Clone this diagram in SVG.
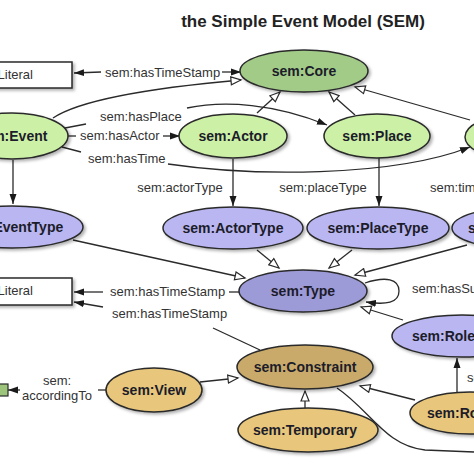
<svg xmlns="http://www.w3.org/2000/svg" width="474" height="474" viewBox="0 0 474 474">
<style>
.n{stroke:#2a2a2a;stroke-width:1.5}
.g{fill:#ccf1a6}.gd{fill:#a2cb88}
.p{fill:#b9b6f1}.pd{fill:#9d9ad8}
.t{fill:#e8c77c}.td{fill:#c9aa6a}
.box{fill:#fff;stroke:#2a2a2a;stroke-width:1.5}
.nl{font-family:"Liberation Sans",Arial,sans-serif;font-size:14px;font-weight:bold;fill:#1c1c2a;text-anchor:middle}
.el{font-family:"Liberation Sans",Arial,sans-serif;font-size:13px;fill:#333}
.c{fill:none;stroke:#2a2a2a;stroke-width:1.3}
.s{marker-end:url(#solid)}
.h{marker-end:url(#hollow)}
</style>
<defs>
<filter id="sh" x="-20%" y="-20%" width="140%" height="150%">
<feDropShadow dx="2" dy="2" stdDeviation="1.5" flood-color="#000" flood-opacity="0.3"/>
</filter>
<marker id="solid" markerWidth="11" markerHeight="8" refX="10" refY="4" orient="auto" markerUnits="userSpaceOnUse">
<path d="M0,0.5 L10,4 L0,7.5 z" fill="#1a1a1a"/>
</marker>
<marker id="hollow" markerWidth="13" markerHeight="10" refX="11" refY="5" orient="auto" markerUnits="userSpaceOnUse">
<path d="M1,1 L11,5 L1,9 z" fill="#fff" stroke="#2a2a2a" stroke-width="1.2"/>
</marker>
</defs>
<rect width="474" height="474" fill="#fff"/>
<text x="303" y="27" font-family="Liberation Sans,Arial,sans-serif" font-size="17" font-weight="bold" fill="#222" text-anchor="middle">the Simple Event Model (SEM)</text>

<g id="connectors">
<path class="c s" d="M222,72 L241,72"/>
<path class="c s" d="M101,72 L74,73"/>
<text class="el" x="105" y="77">sem:hasTimeStamp</text>
<path class="c h" d="M53,118 C80,100 150,88 241,80"/>
<path class="c h" d="M257,113 L280,92"/>
<path class="c h" d="M355,115 L329,92"/>
<path class="c h" d="M470,120 L355,87"/>
<path class="c" d="M66,136 L76,136"/>
<text class="el" x="80" y="140">sem:hasActor</text>
<path class="c s" d="M163,136 L180,136"/>
<path class="c" d="M65,128 L86,124"/>
<text class="el" x="100" y="121">sem:hasPlace</text>
<path class="c s" d="M187,108 C225,100 275,104 327,125"/>
<path class="c" d="M62,147 L81,152"/>
<text class="el" x="88" y="163">sem:hasTime</text>
<path class="c s" d="M168,164 C250,176 390,178 470,147"/>
<path class="c s" d="M13,160 L13,204"/>
<path class="c s" d="M233,159 L233,206"/>
<text class="el" x="180" y="192" text-anchor="middle">sem:actorType</text>
<path class="c s" d="M379,158 L379,206"/>
<text class="el" x="323" y="192" text-anchor="middle">sem:placeType</text>
<text class="el" x="430" y="192">sem:timeType</text>
<path class="c h" d="M73,240 L245,278"/>
<path class="c h" d="M257,250 L279,268"/>
<path class="c h" d="M352,250 L329,268"/>
<path class="c h" d="M467,245 L355,275"/>
<path class="c s" d="M365,283 C386,276 399,279 399,291 C399,303 386,305 366,302"/>
<text class="el" x="412" y="293">sem:hasSubType</text>
<path class="c h" d="M403,320 L361,307"/>
<path class="c" d="M240,292 L229,292"/>
<text class="el" x="110" y="296">sem:hasTimeStamp</text>
<path class="c s" d="M103,292 L74,292"/>
<path class="c" d="M260,350 L213,328"/>
<text class="el" x="112" y="318">sem:hasTimeStamp</text>
<path class="c s" d="M103,307 L74,302"/>
<path class="c h" d="M200,382 L238,378"/>
<path class="c h" d="M305,408 L305,391"/>
<path class="c h" d="M415,400 L360,386"/>
<path class="c s" d="M457,392 L457,358"/>
<text class="el" x="467" y="382">sem:roleType</text>
<path class="c" d="M337,388 C370,410 385,446 425,450 L474,452"/>
<path class="c" d="M107,390 L98,390"/>
<text class="el" x="57" y="385" text-anchor="middle">sem:</text>
<text class="el" x="57" y="400" text-anchor="middle">accordingTo</text>
<path class="c s" d="M20,390 L8,390"/>
</g>

<g id="literal1"><rect class="box" x="-10" y="62" width="82" height="26" filter="url(#sh)"/><text class="el" x="33" y="79" text-anchor="end">Literal</text></g>
<g id="literal2"><rect class="box" x="-10" y="278" width="82" height="27" filter="url(#sh)"/><text class="el" x="33" y="295" text-anchor="end">Literal</text></g>
<g id="place-left"><rect x="-20" y="384" width="28" height="12" fill="#9cc47a" stroke="#2a2a2a" stroke-width="1.2"/></g>

<g id="core"><ellipse class="n gd" cx="304" cy="71" rx="64" ry="21" filter="url(#sh)"/><text class="nl" x="304" y="76">sem:Core</text></g>
<g id="event"><ellipse class="n g" cx="12" cy="136" rx="56" ry="23" filter="url(#sh)"/><text class="nl" x="12" y="141">sem:Event</text></g>
<g id="actor"><ellipse class="n g" cx="233" cy="136" rx="54" ry="22" filter="url(#sh)"/><text class="nl" x="233" y="141">sem:Actor</text></g>
<g id="place"><ellipse class="n g" cx="377" cy="136" rx="53" ry="22" filter="url(#sh)"/><text class="nl" x="377" y="141">sem:Place</text></g>
<g id="time"><ellipse class="n g" cx="515" cy="137" rx="50" ry="22" filter="url(#sh)"/></g>

<g id="eventtype"><ellipse class="n p" cx="12" cy="227" rx="71" ry="21" filter="url(#sh)"/><text class="nl" x="12" y="232">sem:EventType</text></g>
<g id="actortype"><ellipse class="n p" cx="233" cy="228" rx="70" ry="21" filter="url(#sh)"/><text class="nl" x="233" y="233">sem:ActorType</text></g>
<g id="placetype"><ellipse class="n p" cx="378" cy="228" rx="71" ry="21" filter="url(#sh)"/><text class="nl" x="378" y="233">sem:PlaceType</text></g>
<g id="timetype"><ellipse class="n p" cx="522" cy="228" rx="70" ry="21" filter="url(#sh)"/><text class="nl" x="468" y="233" style="text-anchor:start">sem:TimeType</text></g>

<g id="type"><ellipse class="n pd" cx="303" cy="291" rx="64" ry="21" filter="url(#sh)"/><text class="nl" x="303" y="296">sem:Type</text></g>
<g id="roletype"><ellipse class="n p" cx="462" cy="336" rx="70" ry="21" filter="url(#sh)"/><text class="nl" x="412" y="341" style="text-anchor:start">sem:RoleType</text></g>

<g id="constraint"><ellipse class="n td" cx="305" cy="367" rx="68" ry="22" filter="url(#sh)"/><text class="nl" x="305" y="372">sem:Constraint</text></g>
<g id="view"><ellipse class="n t" cx="154" cy="390" rx="48" ry="22" filter="url(#sh)"/><text class="nl" x="154" y="395">sem:View</text></g>
<g id="temporary"><ellipse class="n t" cx="308" cy="430" rx="70" ry="22" filter="url(#sh)"/><text class="nl" x="305" y="435">sem:Temporary</text></g>
<g id="role"><ellipse class="n t" cx="470" cy="413" rx="60" ry="21" filter="url(#sh)"/><text class="nl" x="427" y="418" style="text-anchor:start">sem:Role</text></g>
</svg>
